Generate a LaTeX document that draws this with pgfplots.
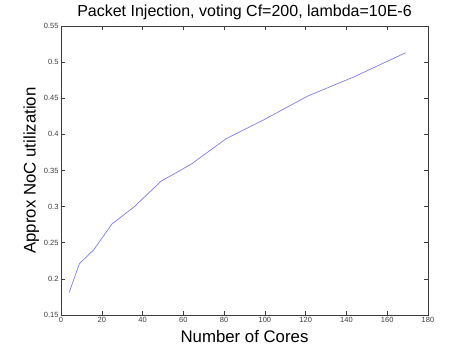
\documentclass[border=0pt]{standalone}
\usepackage{pgfplots}
\pgfplotsset{compat=1.18}
\usepackage{fontspec}
\setmainfont{Liberation Sans}
\definecolor{lineblue}{RGB}{125,125,235}
\definecolor{axgray}{RGB}{60,60,60}
\begin{document}
\begin{tikzpicture}[x=1pt,y=1pt]
\useasboundingbox (-61,-40) rectangle (413,315);
\begin{axis}[
  scale only axis,
  width=367pt, height=289pt,
  xmin=0, xmax=180, ymin=0.15, ymax=0.55,
  xtick={0,20,...,180},
  ytick={0.15,0.2,0.25,0.3,0.35,0.4,0.45,0.5,0.55},
  yticklabels={0.15,0.2,0.25,0.3,0.35,0.4,0.45,0.5,0.55},
  tick align=inside,
  major tick length=4pt,
  axis line style={axgray, line width=0.6pt},
  tick style={axgray, line width=0.5pt},
  ticklabel style={font=\fontsize{7.5}{8}\selectfont, text=axgray},
  /pgf/number format/assume math mode=true,
  title={Packet Injection, voting Cf=200, lambda=10E-6},
  title style={font=\fontsize{16}{18}\selectfont, yshift=-3pt},
  xlabel={Number of Cores},
  ylabel={Approx NoC utilization},
  label style={font=\fontsize{16.8}{19}\selectfont},
  xlabel style={yshift=-1pt},
  ylabel style={yshift=-2pt},
  xticklabel style={yshift=1pt},
  yticklabel style={xshift=1pt},
]
\addplot[lineblue, line width=0.7pt, mark=none] coordinates {
(4,0.181) (9,0.221) (16,0.240) (25,0.276) (36,0.300) (49,0.335)
(64,0.359) (81,0.394) (100,0.421) (121,0.453) (144,0.480) (169,0.513)
};
\end{axis}
\end{tikzpicture}
\end{document}
